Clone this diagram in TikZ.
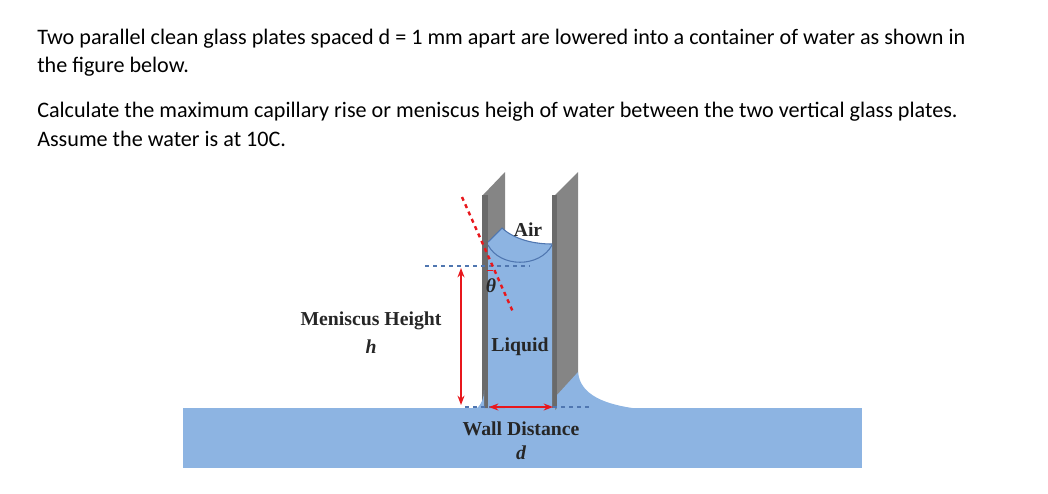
\documentclass[tikz,border=0pt]{standalone}
\usepackage{fontspec}
\setmainfont{Carlito}
\newfontfamily\serifb{Liberation Serif}
\usetikzlibrary{arrows.meta}
\definecolor{water}{HTML}{8DB4E2}
\definecolor{wline}{HTML}{4F76B0}
\definecolor{plate}{HTML}{858585}
\definecolor{redl}{HTML}{E8171C}
\tikzset{txt/.style={anchor=base west,inner sep=0pt,font=\fontsize{16.6pt}{19pt}\selectfont},
lab/.style={font=\serifb\bfseries\fontsize{14.8pt}{17pt}\selectfont,text=black!85,inner sep=0pt},
ilab/.style={lab,font=\serifb\bfseries\itshape\fontsize{14.8pt}{17pt}\selectfont},
dim/.style={redl,line width=1.5pt,{Stealth[length=7pt]}-{Stealth[length=7pt]}}}
\begin{document}
\begin{tikzpicture}[x=0.75pt,y=-0.75pt]
\useasboundingbox (0,0) rectangle (1048,493);
\node[txt] (t1) at (37,44) {Two parallel clean glass plates spaced d = 1 mm apart are lowered into a container of water as shown in};
\node[txt] (t2) at (37,72) {the figure below.};
\node[txt] (t3) at (37,117) {Calculate the maximum capillary rise or meniscus heigh of water between the two vertical glass plates.};
\node[txt] (t4) at (37,146) {Assume the water is at 10C.};
% water bath
\fill[water] (183,408) rectangle (862,468);
% plates back faces
\fill[plate] (483,195) -- (505,172) -- (505,408) -- (483,408) -- cycle;
\fill[plate] (555,195) -- (578,172) -- (578,390) -- (555,410) -- cycle;
\fill[plate!80!black] (482,195) rectangle (488,408);
\fill[plate!80!black] (552,195) rectangle (557,408);
% liquid column
\fill[water] (488,242) -- (502,228) .. controls (515,240) and (535,244) .. (552,244) -- (552,408) -- (488,408) -- cycle;
\draw[wline,line width=0.8pt] (488,242) -- (502,228) .. controls (515,240) and (535,244) .. (552,244);
\draw[wline,line width=0.8pt] (488,245) .. controls (500,268) and (540,268) .. (552,245);
% outside menisci
\fill[water] (476,409) .. controls (482,404) and (484,398) .. (484,390) -- (484,409) -- cycle;
\fill[water] (557,409) -- (557,395) -- (578,372) .. controls (580,395) and (605,405) .. (640,409) -- cycle;
% dashed levels
\draw[wline,dashed,line width=1pt] (425,266) -- (530,266);
\draw[wline,dashed,line width=1pt] (465,407) -- (590,407);
% tangent line
\draw[redl,dashed,line width=1.8pt] (462,197) -- (513,312);
\draw[redl,line width=0.6pt] (487,270) -- (493,270);
\node[ilab] (th) at (491,286) {θ};
% dimensions
\coordinate (h1) at (461,268); \coordinate (h2) at (461,405);
\draw[dim] (h1) -- (h2);
\coordinate (d1) at (489,407); \coordinate (d2) at (553,407);
\draw[dim] (d1) -- (d2);
% labels
\node[lab] (air) at (528,230) {Air};
\node[lab] (liq) at (520,347) {Liquid};
\node[lab] (mh) at (371,321) {Meniscus Height};
\node[ilab] (hh) at (371,347) {h};
\node[lab] (wd) at (521,429) {Wall Distance};
\node[ilab] (dd) at (521,453) {d};
\end{tikzpicture}
\end{document}
